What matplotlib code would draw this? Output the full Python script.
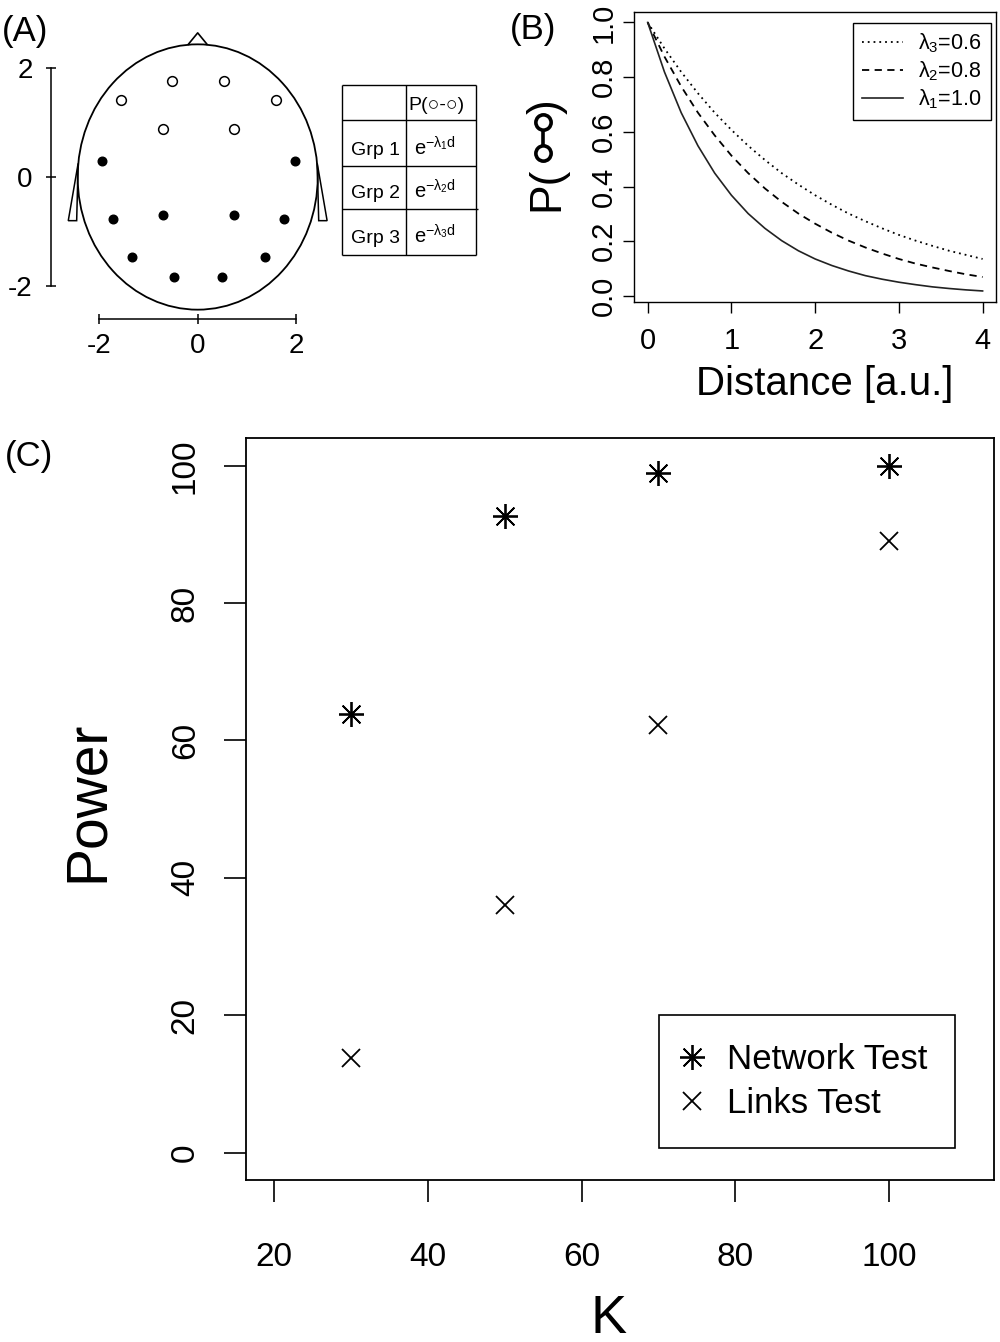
import matplotlib
matplotlib.use('Agg')
import matplotlib.pyplot as plt
from matplotlib.lines import Line2D
from matplotlib.patches import Circle, Polygon

plt.rcParams['font.family'] = ['Liberation Sans', 'DejaVu Sans']
plt.rcParams['mathtext.fontset'] = 'custom'
plt.rcParams['mathtext.rm'] = 'Liberation Sans'
plt.rcParams['mathtext.it'] = 'Liberation Sans'
plt.rcParams['mathtext.bf'] = 'Liberation Sans:bold'
plt.rcParams['mathtext.default'] = 'regular'
plt.rcParams['axes.unicode_minus'] = False

# ------------------------------------------------------------------ data
# Panel A: electrode positions (open = frontal group, filled = others)
open_x = [-0.51, 0.54, -1.55, 1.58, -0.71, 0.74]
open_y = [1.75, 1.75, 1.41, 1.41, 0.88, 0.88]
filled_x = [-1.94, 1.97, -1.71, -0.70, 0.73, 1.74, -1.32, 1.36, -0.47, 0.50]
filled_y = [0.29, 0.29, -0.77, -0.70, -0.70, -0.77, -1.47, -1.47, -1.84, -1.84]
head_r = 2.43
nose_x = [-0.19, 0.0, 0.19]
nose_y = [2.43, 2.64, 2.43]
lear_x = [-2.42, -2.62, -2.45]
lear_y = [0.25, -0.80, -0.80]
rear_x = [2.42, 2.62, 2.45]
rear_y = [0.25, -0.80, -0.80]
a_ticks = [-2, 0, 2]

table_header = 'P(\u25cb-\u25cb)'
table_groups = ['Grp 1', 'Grp 2', 'Grp 3']
table_formulas = [r'$e^{-\lambda_1 d}$', r'$e^{-\lambda_2 d}$', r'$e^{-\lambda_3 d}$']

# Panel B: connection probability vs distance
dist = [0.0, 0.2, 0.4, 0.6, 0.8, 1.0, 1.2, 1.4, 1.6, 1.8, 2.0,
        2.2, 2.4, 2.6, 2.8, 3.0, 3.2, 3.4, 3.6, 3.8, 4.0]
p_lam3 = [1.000, 0.905, 0.819, 0.741, 0.670, 0.607, 0.549, 0.497, 0.449, 0.407, 0.368,
          0.333, 0.301, 0.273, 0.247, 0.223, 0.202, 0.183, 0.165, 0.150, 0.135]
p_lam2 = [1.000, 0.875, 0.766, 0.670, 0.587, 0.513, 0.449, 0.393, 0.344, 0.301, 0.264,
          0.231, 0.202, 0.177, 0.155, 0.135, 0.118, 0.104, 0.091, 0.079, 0.069]
p_lam1 = [1.000, 0.819, 0.670, 0.549, 0.449, 0.368, 0.301, 0.247, 0.202, 0.165, 0.135,
          0.111, 0.091, 0.074, 0.061, 0.050, 0.041, 0.033, 0.027, 0.022, 0.018]
lam_labels = [r'$\lambda_3$=0.6', r'$\lambda_2$=0.8', r'$\lambda_1$=1.0']
b_xticks = [0, 1, 2, 3, 4]
b_yticks = [0.0, 0.2, 0.4, 0.6, 0.8, 1.0]

# Panel C: power vs K
K = [30, 50, 70, 100]
network_power = [63.8, 92.7, 99.0, 99.9]
links_power = [13.8, 36.0, 62.2, 89.0]
c_xticks = [20, 40, 60, 80, 100]
c_yticks = [0, 20, 40, 60, 80, 100]

# ------------------------------------------------------------------ layout helpers
W, H = 1000, 1342
fig = plt.figure(figsize=(W / 100, H / 100), dpi=100)


def rect(l, t, r, b):
    return [l / W, 1 - b / H, (r - l) / W, (b - t) / H]


def fx(px):
    return px / W


def fy(py):
    return 1 - py / H


# ------------------------------------------------------------------ panel A
axA = fig.add_axes(rect(0.1, 2.3, 336, 351.7))
axA.set_xlim(-4.0, 2.8)
axA.set_ylim(-3.2, 3.2)
axA.add_patch(Circle((0, 0), head_r, fill=False, lw=1.3, ec='black'))
axA.plot(nose_x, nose_y, color='black', lw=1.2)
axA.add_patch(Polygon(list(zip(lear_x, lear_y)), closed=True, fill=False, lw=1.1, ec='black'))
axA.add_patch(Polygon(list(zip(rear_x, rear_y)), closed=True, fill=False, lw=1.1, ec='black'))
axA.plot(open_x, open_y, 'o', ms=7, mfc='white', mec='black', mew=1.1, ls='none')
axA.plot(filled_x, filled_y, 'o', ms=6.2, mfc='black', mec='black', ls='none')
for s in ['top', 'right']:
    axA.spines[s].set_visible(False)
axA.spines['left'].set_position(('data', -2.96))
axA.spines['left'].set_bounds(-2, 2)
axA.spines['bottom'].set_position(('data', -2.60))
axA.spines['bottom'].set_bounds(-2, 2)
for s in ['left', 'bottom']:
    axA.spines[s].set_linewidth(1.1)
axA.set_xticks(a_ticks)
axA.set_yticks(a_ticks)
axA.tick_params(axis='both', direction='inout', length=7, width=1.1, labelsize=20)
axA.tick_params(axis='y', pad=10)
axA.tick_params(axis='x', pad=6.5)
axA.patch.set_visible(False)

# table
axT = fig.add_axes(rect(338, 83, 482, 257))
axT.set_xlim(338, 482)
axT.set_ylim(257, 83)
axT.axis('off')
col_edges = [342.3, 405.7, 475.7]
row_edges = [85, 120, 166, 209.3, 255]
for y in row_edges:
    xr = 478 if y == 209.3 else col_edges[-1]
    axT.plot([col_edges[0], xr], [y, y], color='black', lw=1.0, solid_capstyle='butt')
for x in col_edges:
    axT.plot([x, x], [row_edges[0], row_edges[-1]], color='black', lw=1.0, solid_capstyle='butt')
axT.text(408.0, 110, table_header, fontsize=14, ha='left', va='baseline')
row_base = [155, 198.3, 243.3]
for g, f, yb in zip(table_groups, table_formulas, row_base):
    axT.text(350.5, yb, g, fontsize=14, ha='left', va='baseline')
    axT.text(414.0, yb, f, fontsize=14.5, ha='left', va='baseline')

# ------------------------------------------------------------------ panel B
axB = fig.add_axes(rect(634.3, 11.7, 996, 301.7))
l3, = axB.plot(dist, p_lam3, color='black', lw=1.3, ls=(0, (1, 2.2)))
l2, = axB.plot(dist, p_lam2, color='black', lw=1.3, ls=(0, (4, 3)))
l1, = axB.plot(dist, p_lam1, color='#222222', lw=1.2, ls='-')
axB.margins(0.04)
axB.set_xticks(b_xticks)
axB.set_yticks(b_yticks)
axB.set_yticklabels(['%.1f' % v for v in b_yticks])
axB.tick_params(axis='both', direction='out', length=8, width=1.0, labelsize=21)
axB.tick_params(axis='x', pad=10)
axB.tick_params(axis='y', pad=4, labelrotation=90)
for lab in axB.get_yticklabels():
    lab.set_va('center')
for s in axB.spines.values():
    s.set_linewidth(1.0)
legB = axB.legend([l3, l2, l1], lam_labels, loc='upper left',
                  bbox_to_anchor=(fx(853.3), fy(22.7)), bbox_transform=fig.transFigure,
                  fontsize=15.5, frameon=True, fancybox=False, edgecolor='black',
                  framealpha=1, borderpad=0.42, labelspacing=0.2, handlelength=1.9,
                  handletextpad=0.7, borderaxespad=0)
legB.get_frame().set_linewidth(1.0)

fig.text(fx(825), fy(395), 'Distance [a.u.]', fontsize=29, ha='center', va='baseline')
# y label: P( o-o )
fig.text(fx(558.3), fy(211), 'P(', fontsize=32, rotation=90, rotation_mode='anchor',
         ha='left', va='baseline')
fig.add_artist(Line2D([fx(543.3), fx(543.3)], [fy(152.5), fy(121.7)],
                      transform=fig.transFigure, color='black', lw=2.6,
                      marker='o', ms=11, mfc='white', mec='black', mew=2.6))
fig.text(fx(558.3), fy(114), ')', fontsize=32, rotation=90, rotation_mode='anchor',
         ha='left', va='baseline')

# ------------------------------------------------------------------ panel C
axC = fig.add_axes(rect(246, 438.3, 994, 1180))
axC.plot(K, network_power, ls='none', marker=(8, 2, 0), ms=18, mew=1.3, color='black',
         label='Network Test')
axC.plot(K, links_power, ls='none', marker='x', ms=13.5, mew=1.3, color='black',
         label='Links Test')
axC.set_xlim(16.4, 113.6)
axC.set_ylim(-4, 104)
axC.set_xticks(c_xticks)
axC.set_yticks(c_yticks)
axC.tick_params(axis='both', direction='out', length=16, width=1.2, labelsize=24)
axC.tick_params(axis='x', pad=29)
axC.tick_params(axis='y', pad=16.5, labelrotation=90)
for lab in axC.get_yticklabels():
    lab.set_va('center')
for s in axC.spines.values():
    s.set_linewidth(1.3)
legC = axC.legend(loc='upper left', bbox_to_anchor=(fx(659), fy(1015)),
                  bbox_transform=fig.transFigure, fontsize=25, frameon=True,
                  fancybox=False, edgecolor='black', framealpha=1, borderpad=0.8,
                  labelspacing=0.33, handlelength=0.3, handletextpad=0.85,
                  borderaxespad=0, numpoints=1)
legC.get_frame().set_linewidth(1.2)

fig.text(fx(609), fy(1333), 'K', fontsize=39, ha='center', va='baseline')
fig.text(fx(103.3), fy(801.5), 'Power', fontsize=41, rotation=90, rotation_mode='anchor',
         ha='center', va='baseline')

# panel letters
fig.text(fx(1.7), fy(40.6), '(A)', fontsize=25, ha='left', va='baseline')
fig.text(fx(510), fy(39.3), '(B)', fontsize=25, ha='left', va='baseline')
fig.text(fx(5), fy(466), '(C)', fontsize=25, ha='left', va='baseline')

fig.savefig('out.png', dpi=100)
